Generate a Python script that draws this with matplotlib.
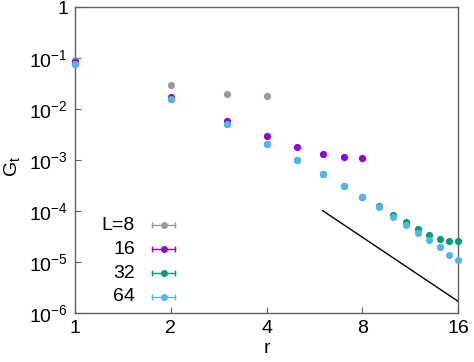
import matplotlib
matplotlib.use("Agg")
import matplotlib.pyplot as plt
import numpy as np
from matplotlib.ticker import FixedLocator, FixedFormatter, NullLocator

plt.rcParams['font.family'] = ['Liberation Sans', 'DejaVu Sans']
plt.rcParams['mathtext.fontset'] = 'custom'
plt.rcParams['mathtext.rm'] = 'Liberation Sans'
plt.rcParams['mathtext.it'] = 'Liberation Sans'

# Data
r8 = [1, 2, 3, 4]
g8 = [0.092, 0.030, 0.0197, 0.0177]
r16 = [1, 2, 3, 4, 5, 6, 7, 8]
g16 = [0.082, 0.017, 0.0059, 0.0029, 0.0018, 0.00133, 0.00115, 0.0011]
r32 = list(range(1, 17))
g32 = [0.078, 0.0158, 0.0051, 0.0021, 0.00100, 0.00054, 3.1e-4, 1.9e-4,
       1.25e-4, 8.3e-5, 6.0e-5, 4.4e-5, 3.4e-5, 2.8e-5, 2.56e-5, 2.56e-5]
r64 = list(range(1, 17))
g64 = [0.077, 0.0158, 0.0051, 0.0021, 0.00100, 0.00054, 3.05e-4, 1.88e-4,
       1.2e-4, 7.7e-5, 5.4e-5, 3.75e-5, 2.75e-5, 2.0e-5, 1.4e-5, 1.1e-5]
line_r = [6, 16]
line_g = [1.02e-4, 1.7e-6]

labels = ['L=8', '16', '32', '64']
colors = ['#9a9a9a', '#9400d3', '#009e73', '#56b4e9']
xticks = [1, 2, 4, 8, 16]
yticks = [1e-6, 1e-5, 1e-4, 1e-3, 1e-2, 1e-1, 1]
yticklabels = [r'$10^{-6}$', r'$10^{-5}$', r'$10^{-4}$', r'$10^{-3}$',
               r'$10^{-2}$', r'$10^{-1}$', '1']

fig = plt.figure(figsize=(4.74, 3.62), dpi=100)
ax = fig.add_axes([75/474, 1 - 313/362, (458-75)/474, (313-7)/362])

series = [(r8, g8), (r16, g16), (r32, g32), (r64, g64)]
for (x, y), c in zip(series, colors):
    ax.plot(x, y, 'o', color=c, markersize=5.2, markeredgewidth=0, clip_on=False, zorder=3)

ax.plot(line_r, line_g, color='black', lw=1.0)

ax.set_xscale('log', base=2)
ax.set_yscale('log')
ax.set_xlim(1, 16)
ax.set_ylim(1e-6, 1)
ax.xaxis.set_major_locator(FixedLocator(xticks))
ax.xaxis.set_major_formatter(FixedFormatter([str(t) for t in xticks]))
ax.xaxis.set_minor_locator(NullLocator())
ax.yaxis.set_major_locator(FixedLocator(yticks))
ax.yaxis.set_major_formatter(FixedFormatter(yticklabels))
ax.yaxis.set_minor_locator(NullLocator())
ax.tick_params(direction='in', length=4, width=0.8, color='#606060',
               labelsize=14, top=False, right=False, pad=5)
for s in ax.spines.values():
    s.set_color('#606060')
    s.set_linewidth(1.0)

ax.set_xlabel('r', fontsize=14, labelpad=2)
fig.text(12/474, 1 - 166/362, r'G$_\mathrm{t}$', fontsize=14, rotation=90,
         ha='center', va='center')

# Legend (gnuplot style: right-aligned labels, errorbar samples to the right)
rows_y = [225, 249.3, 273.3, 296.7]
tr = ax.transAxes
def ax_xy(px, py):
    return ((px - 75) / (458 - 75), (313 - py) / (313 - 7))
for lab, c, py in zip(labels, colors, rows_y):
    tx, ty = ax_xy(135, py)
    ax.text(tx, ty, lab, transform=tr, ha='right', va='center', fontsize=14)
    x0, yy = ax_xy(152, py)
    x1, _ = ax_xy(175, py)
    xm = (x0 + x1) / 2
    ax.plot([x0, x1], [yy, yy], color=c, lw=1.0, transform=tr, clip_on=False)
    ax.plot([x0, x1], [yy, yy], '|', color=c, markersize=5, markeredgewidth=1.0, transform=tr, clip_on=False)
    ax.plot([xm], [yy], 'o', color=c, markersize=5, markeredgewidth=0, transform=tr, clip_on=False)

fig.savefig('out.png', dpi=100)
